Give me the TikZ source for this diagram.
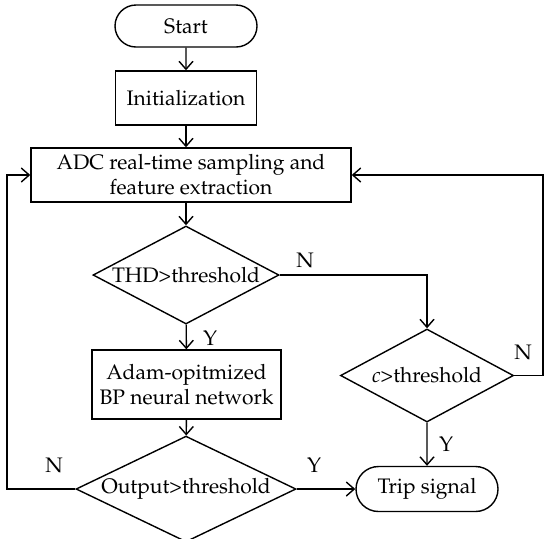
\documentclass[tikz,border=0pt]{standalone}
\usepackage[T1]{fontenc}
\usepackage{mathpazo}
\usetikzlibrary {arrows.meta}
\usetikzlibrary{shapes.geometric,shapes.misc}

\begin{document}
\begin{tikzpicture}[>={Straight Barb[length=4pt,width=7pt]},x=0.5pt,y=-0.5pt,
		line width=0.7pt,font=\fontsize{10.5}{12.5}\selectfont,
		term/.style={draw,rounded rectangle,inner sep=0pt,minimum width=71pt,minimum height=21pt},
		proc/.style={draw,rectangle,inner sep=0pt,align=center},
		dec/.style={draw,diamond,inner sep=0pt,aspect=2}]
			\useasboundingbox (0,0) rectangle (550,538);

			\node[term] (start) at (186,26) {Start};
			\node[proc,minimum width=70.5pt,minimum height=27pt] (init) at (186,98) {Initialization};
			\node[proc,minimum width=160pt,minimum height=27pt] (adc) at (191,175) {ADC real-time sampling and\\feature extraction};
			\node[dec,minimum width=93pt,minimum height=49pt] (thd) at (186,275) {THD>threshold};
			\node[proc,minimum width=94.5pt,minimum height=34.5pt] (adam) at (186.5,384.5) {Adam-opitmized\\BP neural network};
			\node[dec,minimum width=110pt,minimum height=49pt] (out) at (186,489) {Output>threshold};
			\node[dec,minimum width=86.5pt,minimum height=46.5pt] (cth) at (427,375.5) {\textit{c}>threshold};
			\node[term,minimum height=22.5pt] (trip) at (427,489) {Trip signal};

			\coordinate (L) at (7,489);
			\coordinate (R) at (543,375.5);

			\draw[->] (start) -- (init);
			\draw[->] (init.south) -- (init.south |- adc.north);
			\draw[->] (thd.north |- adc.south) -- (thd.north);
			\draw[->] (thd) -- (adam);
			\draw[->] (thd.east) -| (cth.north);
			\draw[->] (adam) -- (out);
			\draw[->] (out) -- (trip);
			\draw[->] (cth) -- (trip);
			\draw[->] (out.west) -- (L) |- (adc.west);
			\draw[->] (cth.east) -- (R) |- (adc.east);

			\node (thdN) at (305,260) {N};
			\node (thdY) at (210,338) {Y};
			\node (outN) at (54,465) {N};
			\node (outY) at (314,465) {Y};
			\node (cthN) at (523,352) {N};
			\node (cthY) at (446,444) {Y};
		\end{tikzpicture}
\end{document}
